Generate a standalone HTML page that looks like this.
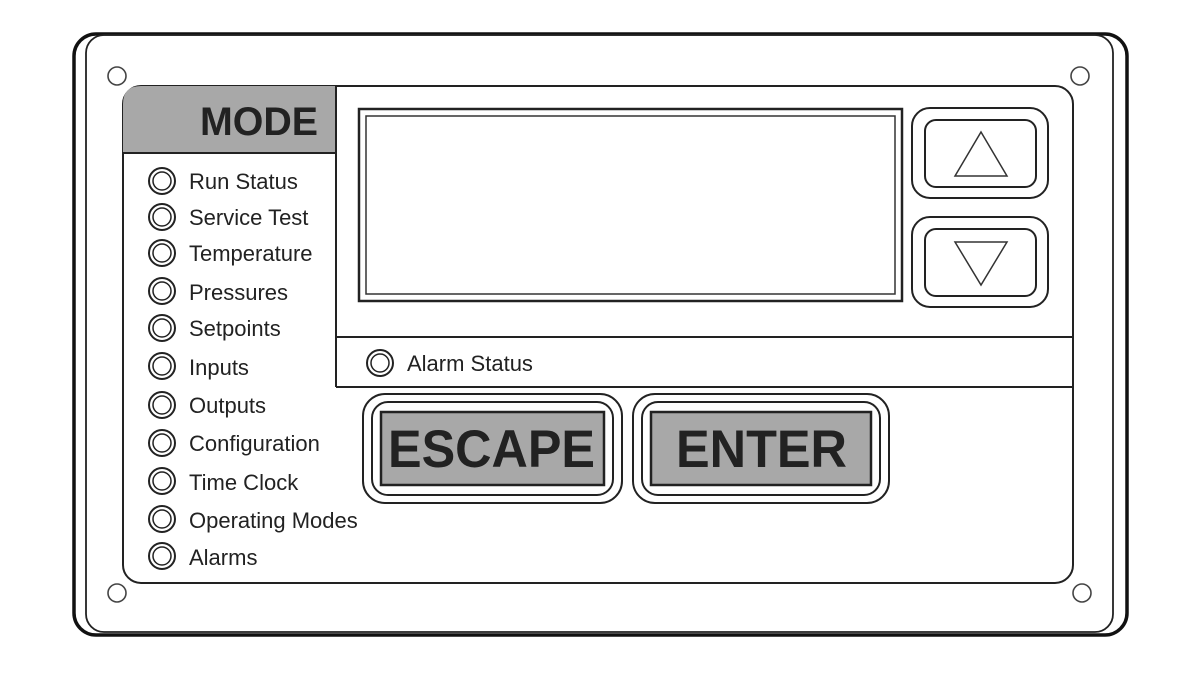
<!DOCTYPE html>
<html><head><style>body{margin:0;background:#fff}svg{display:block}</style></head><body>
<svg width="1200" height="675" viewBox="0 0 1200 675" xmlns="http://www.w3.org/2000/svg" font-family="Liberation Sans, Arial, sans-serif">
<rect x="74" y="34" width="1053" height="601" rx="22" fill="#fff" stroke="#111" stroke-width="3.5"/>
<rect x="86" y="35" width="1027" height="597" rx="18" fill="none" stroke="#222" stroke-width="1.8"/>
<g fill="#fff" stroke="#444" stroke-width="1.6">
<circle cx="117" cy="76" r="9"/><circle cx="1080" cy="76" r="9"/>
<circle cx="117" cy="593" r="9"/><circle cx="1082" cy="593" r="9"/>
</g>
<rect x="123" y="86" width="950" height="497" rx="18" fill="#fff" stroke="#222" stroke-width="2"/>
<path d="M123 153 V104 Q123 86 141 86 H336 V153 Z" fill="#a8a8a8"/>
<line x1="123" y1="153" x2="336" y2="153" stroke="#222" stroke-width="2"/>
<line x1="336" y1="86" x2="336" y2="387" stroke="#222" stroke-width="2"/>
<line x1="336" y1="337" x2="1073" y2="337" stroke="#222" stroke-width="2"/>
<line x1="336" y1="387" x2="1073" y2="387" stroke="#222" stroke-width="2"/>
<text x="200" y="135" font-size="40" font-weight="bold" textLength="118" lengthAdjust="spacingAndGlyphs" fill="#222">MODE</text>
<rect x="359" y="109" width="543" height="192" fill="none" stroke="#222" stroke-width="2.5"/>
<rect x="366" y="116" width="529" height="178" fill="none" stroke="#333" stroke-width="1.5"/>
<g fill="none" stroke="#222" stroke-width="2">
<rect x="912" y="108" width="136" height="90" rx="18"/>
<rect x="925" y="120" width="111" height="67" rx="11"/>
<rect x="912" y="217" width="136" height="90" rx="18"/>
<rect x="925" y="229" width="111" height="67" rx="11"/>
</g>
<polygon points="981,132 1007,176 955,176" fill="none" stroke="#333" stroke-width="1.5"/>
<polygon points="955,242 1007,242 981,285" fill="none" stroke="#333" stroke-width="1.5"/>
<g fill="#fff" stroke="#222" stroke-width="2">
<circle cx="162" cy="181" r="13"/><circle cx="162" cy="181" r="9" stroke-width="1.5"/>
<circle cx="162" cy="217" r="13"/><circle cx="162" cy="217" r="9" stroke-width="1.5"/>
<circle cx="162" cy="253" r="13"/><circle cx="162" cy="253" r="9" stroke-width="1.5"/>
<circle cx="162" cy="291" r="13"/><circle cx="162" cy="291" r="9" stroke-width="1.5"/>
<circle cx="162" cy="328" r="13"/><circle cx="162" cy="328" r="9" stroke-width="1.5"/>
<circle cx="162" cy="366" r="13"/><circle cx="162" cy="366" r="9" stroke-width="1.5"/>
<circle cx="162" cy="405" r="13"/><circle cx="162" cy="405" r="9" stroke-width="1.5"/>
<circle cx="162" cy="443" r="13"/><circle cx="162" cy="443" r="9" stroke-width="1.5"/>
<circle cx="162" cy="481" r="13"/><circle cx="162" cy="481" r="9" stroke-width="1.5"/>
<circle cx="162" cy="519" r="13"/><circle cx="162" cy="519" r="9" stroke-width="1.5"/>
<circle cx="162" cy="556" r="13"/><circle cx="162" cy="556" r="9" stroke-width="1.5"/>
<circle cx="380" cy="363" r="13"/><circle cx="380" cy="363" r="9" stroke-width="1.5"/>
</g>
<g font-size="22" fill="#222">
<text x="189" y="189">Run Status</text>
<text x="189" y="225">Service Test</text>
<text x="189" y="261">Temperature</text>
<text x="189" y="300">Pressures</text>
<text x="189" y="336">Setpoints</text>
<text x="189" y="375">Inputs</text>
<text x="189" y="413">Outputs</text>
<text x="189" y="451">Configuration</text>
<text x="189" y="490">Time Clock</text>
<text x="189" y="528">Operating Modes</text>
<text x="189" y="565">Alarms</text>
<text x="407" y="371">Alarm Status</text>
</g>
<g fill="none" stroke="#222" stroke-width="2">
<rect x="363" y="394" width="259" height="109" rx="22"/>
<rect x="372" y="402" width="241" height="93" rx="16"/>
<rect x="633" y="394" width="256" height="109" rx="22"/>
<rect x="642" y="402" width="238" height="93" rx="16"/>
</g>
<rect x="381" y="412" width="223" height="73" fill="#a8a8a8" stroke="#222" stroke-width="2.5"/>
<rect x="651" y="412" width="220" height="73" fill="#a8a8a8" stroke="#222" stroke-width="2.5"/>
<text x="388" y="467" font-size="53" font-weight="bold" textLength="207" lengthAdjust="spacingAndGlyphs" fill="#222">ESCAPE</text>
<text x="676" y="467" font-size="53" font-weight="bold" textLength="171" lengthAdjust="spacingAndGlyphs" fill="#222">ENTER</text>
</svg>
</body></html>
